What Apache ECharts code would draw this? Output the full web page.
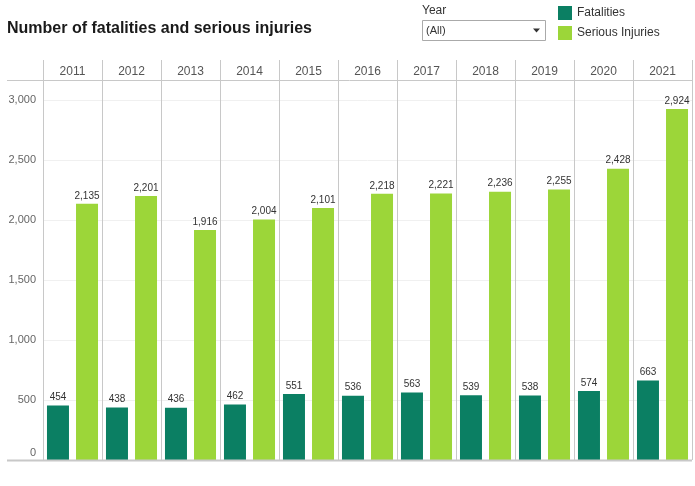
<!DOCTYPE html>
<html>
<head>
<meta charset="utf-8">
<script src="https://cdn.jsdelivr.net/npm/echarts@6/dist/echarts.min.js"></script>
<style>
  html, body { margin: 0; padding: 0; background: #fff; }
  #chart { width: 695px; height: 486px; }
</style>
</head>
<body>
<div id="chart"></div>
<script>
// data
var years = ["2011", "2012", "2013", "2014", "2015", "2016", "2017", "2018", "2019", "2020", "2021"];
var fatalities = [454, 438, 436, 462, 551, 536, 563, 539, 538, 574, 663];
var seriousInjuries = [2135, 2201, 1916, 2004, 2101, 2218, 2221, 2236, 2255, 2428, 2924];

var font = "'Liberation Sans', Arial, sans-serif";
var lineCol = "#c8c8c8";

function fmt(v) {
  return Number(v).toLocaleString("en-US");
}

var myChart = echarts.init(document.getElementById("chart"));

// the grid starts at the top of the year header row (y=60); header is 20px tall,
// so the value axis runs up to 3333 to keep 3166 at the header's bottom line
var option = {
  animation: false,
  textStyle: { fontFamily: font },
  title: {
    text: "Number of fatalities and serious injuries",
    left: 7,
    top: 21,
    padding: 0,
    textStyle: { fontSize: 16, fontWeight: "bold", color: "#1a1a1a", fontFamily: font }
  },
  legend: {
    orient: "vertical",
    left: 558,
    top: 6,
    padding: 0,
    itemWidth: 14,
    itemHeight: 14,
    itemGap: 6,
    icon: "rect",
    textStyle: { fontSize: 12, color: "#333", fontFamily: font },
    data: ["Fatalities", "Serious Injuries"]
  },
  grid: { left: 43, right: 3, top: 60, bottom: 26, containLabel: false },
  xAxis: {
    type: "category",
    position: "top",
    data: years,
    boundaryGap: true,
    axisLine: { show: false },
    axisTick: { show: false },
    axisLabel: { inside: true, margin: 6, fontSize: 12, color: "#555", fontFamily: font },
    splitLine: { show: true, interval: 0, lineStyle: { color: lineCol } }
  },
  yAxis: {
    type: "value",
    min: 0,
    max: 3333.33,
    interval: 500,
    axisLine: { show: false },
    axisTick: { show: false },
    axisLabel: {
      margin: 7,
      fontSize: 11,
      color: "#666",
      fontFamily: font,
      showMaxLabel: false,
      formatter: function (v) {
        if (v === 0) return "{z|0}";
        return fmt(v);
      },
      rich: { z: { fontSize: 11, color: "#666", padding: [0, 0, 14, 0] } }
    },
    splitLine: { show: true, showMaxLine: false, lineStyle: { color: "#f0f0f0" } }
  },
  series: [
    {
      name: "Fatalities",
      type: "bar",
      data: fatalities,
      barWidth: 22,
      barGap: "32%",
      itemStyle: { color: "#0b7f63" },
      label: {
        show: true,
        position: "top",
        distance: 3,
        fontSize: 10,
        color: "#333",
        fontFamily: font,
        formatter: function (p) { return fmt(p.value); }
      }
    },
    {
      name: "Serious Injuries",
      type: "bar",
      data: seriousInjuries,
      barWidth: 22,
      itemStyle: { color: "#9cd639" },
      label: {
        show: true,
        position: "top",
        distance: 3,
        fontSize: 10,
        color: "#333",
        fontFamily: font,
        formatter: function (p) { return fmt(p.value); }
      }
    }
  ],
  graphic: [
    // header bottom line and baseline
    { type: "line", shape: { x1: 7, y1: 80.5, x2: 692, y2: 80.5 }, style: { stroke: lineCol, lineWidth: 1 }, z: 10 },
    { type: "line", shape: { x1: 7, y1: 460.5, x2: 692, y2: 460.5 }, style: { stroke: lineCol, lineWidth: 2 }, z: 10 },
    // Year filter control
    { type: "text", left: 422, top: 5, style: { text: "Year", fontSize: 12, fill: "#333", fontFamily: font } },
    { type: "rect", shape: { x: 422.5, y: 20.5, width: 123, height: 20 }, style: { fill: "#fff", stroke: "#aaa", lineWidth: 1 } },
    { type: "text", left: 426, top: 25, style: { text: "(All)", fontSize: 11, fill: "#333", fontFamily: font } },
    { type: "polygon", shape: { points: [[533, 28.5], [540, 28.5], [536.5, 32.5]] }, style: { fill: "#333" } }
  ]
};

myChart.setOption(option);
</script>
</body>
</html>
